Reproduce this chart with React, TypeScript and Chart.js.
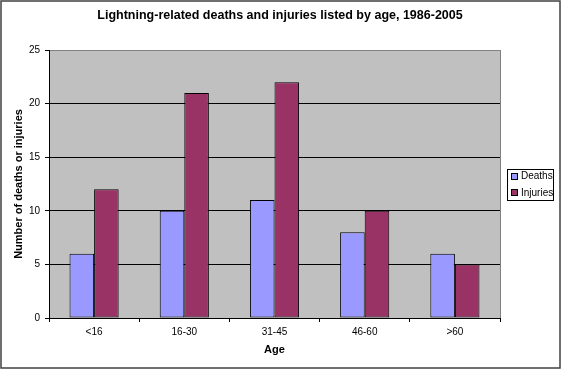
import React, { useEffect, useRef } from "react";
import { Chart, registerables } from "chart.js";

Chart.register(...registerables);

const titleText = "Lightning-related deaths and injuries listed by age, 1986-2005";
const xTitle = "Age";
const yTitle = "Number of deaths or injuries";
const categories = ["<16", "16-30", "31-45", "46-60", ">60"];
const deaths = [6, 10, 11, 8, 6];
const injuries = [12, 21, 22, 10, 5];
const seriesNames = ["Deaths", "Injuries"];
const seriesColors = ["#9999FF", "#993366"];
const yMin = 0;
const yMax = 25;
const yStep = 5;

const FONT = "'Liberation Sans', Arial, sans-serif";

const decorPlugin = {
  id: "decor",
  beforeDraw(chart: any) {
    const { ctx, chartArea } = chart;
    ctx.save();
    ctx.fillStyle = "#ffffff";
    ctx.fillRect(0, 0, chart.width, chart.height);
    ctx.fillStyle = "#C0C0C0";
    ctx.fillRect(chartArea.left, chartArea.top, chartArea.right - chartArea.left, chartArea.bottom - chartArea.top);
    ctx.restore();
  },
  afterDraw(chart: any) {
    const { ctx, chartArea } = chart;
    ctx.save();
    // title
    ctx.fillStyle = "#000";
    ctx.font = `bold 12.5px ${FONT}`;
    ctx.textAlign = "center";
    ctx.textBaseline = "middle";
    ctx.fillText(titleText, 280, 16);
    // right border of plot area
    ctx.strokeStyle = "#808080";
    ctx.lineWidth = 1;
    ctx.beginPath();
    ctx.moveTo(Math.round(chartArea.right) + 0.5, chartArea.top);
    ctx.lineTo(Math.round(chartArea.right) + 0.5, chartArea.bottom);
    ctx.stroke();
    // outer border
    ctx.strokeStyle = "#404040";
    ctx.lineWidth = 1.5;
    ctx.strokeRect(1, 1, chart.width - 2, chart.height - 2);
    // legend
    const lx = 507.5, ly = 169.5, lw = 46, lh = 31;
    ctx.fillStyle = "#ffffff";
    ctx.fillRect(lx, ly, lw, lh);
    ctx.strokeStyle = "#000000";
    ctx.lineWidth = 1;
    ctx.strokeRect(lx, ly, lw, lh);
    ctx.font = `10px ${FONT}`;
    ctx.textBaseline = "middle";
    ctx.textAlign = "left";
    chart.data.datasets.forEach((ds: any, i: number) => {
      const cy = 176.5 + i * 16.5;
      ctx.fillStyle = ds.backgroundColor;
      ctx.fillRect(511.5, Math.round(cy) - 3.5, 6, 6);
      ctx.strokeStyle = "#000";
      ctx.strokeRect(511.5, Math.round(cy) - 3.5, 6, 6);
      ctx.fillStyle = "#000";
      ctx.fillText(ds.label, 521, cy);
    });
    ctx.restore();
  },
};

export default function App() {
  const ref = useRef<HTMLCanvasElement>(null);
  useEffect(() => {
    if (!ref.current) return;
    const chart = new Chart(ref.current, {
      type: "bar",
      data: {
        labels: categories,
        datasets: [
          {
            label: seriesNames[0],
            data: deaths,
            backgroundColor: seriesColors[0],
            borderColor: "#000",
            borderWidth: 1,
            borderSkipped: false,
            categoryPercentage: 0.545,
            barPercentage: 1,
          },
          {
            label: seriesNames[1],
            data: injuries,
            backgroundColor: seriesColors[1],
            borderColor: "#000",
            borderWidth: 1,
            borderSkipped: false,
            categoryPercentage: 0.545,
            barPercentage: 1,
          },
        ],
      },
      options: {
        responsive: false,
        animation: false,
        devicePixelRatio: 1,
        layout: { padding: { left: 0, right: 61, top: 50, bottom: 0 } },
        plugins: {
          legend: { display: false },
          tooltip: { enabled: false },
          title: { display: false },
        },
        scales: {
          x: {
            offset: true,
            afterFit(scale: any) {
              scale.height = 51;
            },
            grid: {
              offset: true,
              drawOnChartArea: false,
              drawTicks: true,
              tickLength: 4,
              color: "#000",
              tickColor: "#000",
            },
            border: { color: "#000", width: 1 },
            ticks: {
              color: "#000",
              font: { family: FONT, size: 10 },
              padding: 4,
              maxRotation: 0,
            },
            title: {
              display: true,
              text: xTitle,
              color: "#000",
              font: { family: FONT, size: 11, weight: "bold" },
              padding: { top: 0, bottom: 12.4 },
            },
          },
          y: {
            min: yMin,
            max: yMax,
            afterFit(scale: any) {
              scale.width = 49;
            },
            ticks: {
              stepSize: yStep,
              color: "#000",
              font: { family: FONT, size: 10 },
              padding: 5,
            },
            grid: {
              color: (c: any) => (c.tick && c.tick.value === yMax ? "#808080" : "#000"),
              tickColor: "#000",
              tickLength: 4,
            },
            border: { color: "#000", width: 1 },
            title: {
              display: true,
              text: yTitle,
              color: "#000",
              font: { family: FONT, size: 11, weight: "bold" },
              padding: { top: 12, bottom: 0 },
            },
          },
        },
      },
      plugins: [decorPlugin],
    });
    return () => chart.destroy();
  }, []);
  return (
    <div style={{ position: "absolute", left: 0, top: 0, width: 561, height: 369 }}>
      <canvas ref={ref} width={561} height={369} style={{ display: "block" }} />
    </div>
  );
}
